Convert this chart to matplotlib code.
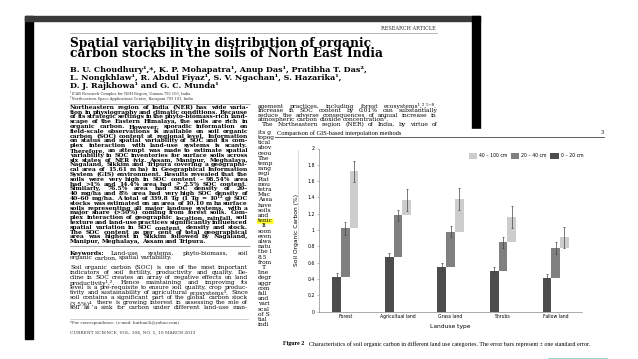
import matplotlib
matplotlib.use("Agg")
import numpy as np
import matplotlib.pyplot as plt
from matplotlib.patches import Rectangle

# chart data
categories = ['Forest', 'Agricultual land', 'Grass land', 'Shrubs', 'Fallow land']
soc_0_20 = [0.42, 0.67, 0.55, 0.50, 0.41]
soc_20_40 = [1.02, 1.18, 0.98, 0.85, 0.78]
soc_40_100 = [1.72, 1.37, 1.38, 1.16, 0.91]
err_0_20 = [0.05, 0.05, 0.05, 0.05, 0.05]
err_20_40 = [0.08, 0.07, 0.07, 0.07, 0.07]
err_40_100 = [0.13, 0.13, 0.13, 0.14, 0.13]
depth_labels = ['0 – 20 cm', '20 – 40 cm', '40 – 100 cm']
yticks = [0, 0.2, 0.4, 0.6, 0.8, 1, 1.2, 1.4, 1.6, 1.8, 2]

# article text
title_lines = ["Spatial variability in distribution of organic",
               "carbon stocks in the soils of North East India"]
author_lines = ["B. U. Choudhury¹,*, K. P. Mohapatra¹, Anup Das¹, Pratibha T. Das²,",
                "L. Nongkhlaw¹, R. Abdul Fiyaz¹, S. V. Ngachan¹, S. Hazarika¹,",
                "D. J. Rajkhowa¹ and G. C. Munda¹"]
affil_lines = ["¹ICAR Research Complex for NEH Region, Umiam 793 103, India",
               "²Northeastern Space Applications Centre, Barapani 793 103, India"]
abstract_lines = [
    "Northeastern region of India (NER) has wide varia-",
    "tion in physiography and climatic conditions. Because",
    "of its strategic settings in the phyto-biomass-rich land-",
    "scape of the Eastern Himalaya, the soils are rich in",
    "organic carbon. However, sporadic information on",
    "field-scale observations is available on soil organic",
    "carbon (SOC) content at regional level. Information",
    "on status and spatial variability of SOC and its com-",
    "plex interaction with land-use systems is scanty.",
    "Therefore, an attempt was made to estimate spatial",
    "variability in SOC inventories for surface soils across",
    "six states of NER (viz. Assam, Manipur, Meghalaya,",
    "Nagaland, Sikkim and Tripura covering a geographi-",
    "cal area of 15.61 m ha) in Geographical Information",
    "System (GIS) environment. Results revealed that the",
    "soils were very high in SOC content – 98.54% area",
    "had >1% and 14.4% area had > 2.5% SOC content.",
    "Similarly, 76.5% area had SOC density of 20–",
    "40 mg/ha and 8% area had very high SOC density of",
    "40–60 mg/ha. A total of 339.8 Tg (1 Tg = 10¹² g) SOC",
    "stocks was estimated on an area of 10.10 m ha surface",
    "soils representing all major landuse systems, with a",
    "major share (>50%) coming from forest soils. Com-",
    "plex interaction of geographic location, rainfall, soil",
    "texture and land-use practices significantly influenced",
    "spatial variation in SOC content, density and stock.",
    "The SOC content as per cent of total geographical",
    "area was highest in Sikkim followed by Nagaland,",
    "Manipur, Meghalaya, Assam and Tripura.",
]
keyword_lines = ["Land-use systems, phyto-biomass, soil",
                 "organic carbon, spatial variability."]
intro_lines = [
    "Soil organic carbon (SOC) is one of the most important",
    "indicators of soil fertility, productivity and quality. De-",
    "cline in SOC creates an array of negative effects on land",
    "productivity¹,². Hence maintaining and improving its",
    "level is a pre-requisite to ensure soil quality, crop produc-",
    "tivity and sustainability of agricultural ecosystems³. Since",
    "soil contains a significant part of the global carbon stock",
    "(3.5%)⁴, there is growing interest in assessing the role of",
    "soil as a sink for carbon under different land-use man-",
]
right_lines = [
    "agement practices, including forest ecosystems¹,²,⁵⁻⁸.",
    "Increase in SOC content by 0.01% can substantially",
    "reduce the adverse consequences of annual increase in",
    "atmospheric carbon dioxide concentration⁹.",
    "The Northeastern region (NER) of India, by virtue of",
]
# right column, only the start of each line shows beside the pasted chart
right_cut = ["its g", "topog", "tical", "abov", "ceou", "The", "temp", "rang", "regi",
             "Plat", "mou", "tetra", "Mac", "Assa", "have", "soils", "and", "tenic",
             "It", "soon", "even", "alwa", "natu", "the l", "8.5", "from", "T", "line",
             "degr", "aggr", "com", "fall", "and", "vari", "scal", "of S", "tial", "indi"]


def justify(ax, line, x0, x1, y, last=False, **kw):
    words = line.split()
    texts = [ax.text(x0, y, w, va='center', ha='left', **kw) for w in words]
    r = ax.figure.canvas.get_renderer()
    widths = [t.get_window_extent(r).width for t in texts]
    n = len(words)
    if n > 1 and not last:
        sp = (x1 - x0 - sum(widths)) / (n - 1)
        if sp < 0.9:
            scale = (x1 - x0 - 0.9 * (n - 1)) / sum(widths)
            for t in texts:
                t.set_fontsize(t.get_fontsize() * scale)
            widths = [t.get_window_extent(r).width for t in texts]
            sp = (x1 - x0 - sum(widths)) / (n - 1)
    else:
        sp = 1.4
    x = x0
    for t, w in zip(texts, widths):
        t.set_x(x)
        x += w + sp


fig = plt.figure(figsize=(6.38, 3.59), dpi=100)
fig.patch.set_facecolor('white')

bg = fig.add_axes([0, 0, 1, 1])
bg.set_xlim(0, 638)
bg.set_ylim(359, 0)
bg.axis('off')

# page frame
bg.add_patch(Rectangle((25, 16), 8, 323, color='black', zorder=2))
bg.add_patch(Rectangle((25, 16), 455, 4.5, color='#3a3a3a', zorder=2))
bg.add_patch(Rectangle((472, 16), 8, 113, color='black', zorder=2))

serif = 'DejaVu Serif'
body = 4.3
bg.text(436, 28.5, 'RESEARCH ARTICLE', family=serif, fontsize=3.6, color='#333333',
        ha='right', va='center')
bg.plot([70, 437], [33.3, 33.3], color='#999999', lw=0.5)
bg.text(70, 48.5, '\n'.join(title_lines), family=serif, weight='bold', fontsize=8.8,
        va='center', linespacing=0.78)
bg.text(70, 78, '\n'.join(author_lines), family=serif, weight='bold', fontsize=5.8,
        va='center', linespacing=0.95)
bg.text(70, 96.3, '\n'.join(affil_lines), family=serif, fontsize=2.6, va='center',
        color='#333333', linespacing=1.0)

bg.plot([70, 250], [104.3, 104.3], color='#666666', lw=0.4)
for i, s in enumerate(abstract_lines):
    justify(bg, s, 70, 248, 107.3 + i * 4.8, last=(i == len(abstract_lines) - 1),
            family=serif, weight='bold', fontsize=body)
bg.plot([70, 250], [245.9, 245.9], color='#666666', lw=0.4)
kw_t = bg.text(70, 253.3, 'Keywords:', family=serif, weight='bold', fontsize=body, va='center')
kw_w = kw_t.get_window_extent(fig.canvas.get_renderer()).width
justify(bg, keyword_lines[0], 70 + kw_w + 6, 248, 253.3, family=serif, fontsize=body)
justify(bg, keyword_lines[1], 70, 248, 258.0, last=True, family=serif, fontsize=body)
for i, s in enumerate(intro_lines):
    justify(bg, s, 70, 248, 267.7 + i * 5.0, family=serif, fontsize=body)
bg.plot([70, 248], [319.3, 319.3], color='#aaaaaa', lw=0.4)
bg.text(70, 323.3, '*For correspondence. (e-mail: burhan3i@yahoo.com)', family=serif,
        fontsize=2.9, va='center', color='#333333')
bg.text(70, 331.7, 'CURRENT SCIENCE, VOL. 104, NO. 5, 10 MARCH 2013', family=serif,
        fontsize=3.2, va='center', color='#333333')

for i, s in enumerate(right_lines):
    x0 = 262 if i == 4 else 258
    justify(bg, s, x0, 437, 106.3 + i * 4.55, last=(i == 3), family=serif, fontsize=body)
bg.add_patch(Rectangle((257, 218.5), 17, 4.5, color='#ffff3a', zorder=0.5))
for i, s in enumerate(right_cut):
    x0 = 262 if s in ('It', 'T') else 258
    bg.text(x0, 132.3 + 5.2 * i, s, family=serif, fontsize=body, va='center')

# pasted chart image
bg.add_patch(Rectangle((274, 129), 364, 230, color='white', zorder=5))
bg.text(277, 133, 'Comparison of GIS-based interpolation methods', family='Liberation Serif',
        fontsize=4.6, va='center', zorder=6)
bg.text(602, 133, '3', family='Liberation Serif', fontsize=4.6, va='center', ha='center',
        zorder=6)
bg.plot([275, 604], [137.3, 137.3], color='#444444', lw=0.6, zorder=6)
bg.plot([297.5, 297.5], [150, 240], color='#cccccc', lw=0.5, zorder=6)
bg.text(283, 344, 'Figure 2', family='Liberation Serif', weight='bold', fontsize=4.3,
        va='center', zorder=6)
bg.text(309, 344, 'Characteristics of soil organic carbon in different land use categories. '
        'The error bars represent ± one standard error.', family='Liberation Serif',
        fontsize=4.3, va='center', zorder=6)
bg.plot([549, 607], [358.5, 358.5], color='#7fd1bd', lw=1.2, zorder=6)

# bar chart
ax = fig.add_axes([319 / 638, 1 - 311.7 / 359, 263 / 638, 163.2 / 359])
ax.set_facecolor('white')
x = np.arange(len(categories))
w = 0.165
lo = np.zeros(len(categories))
series = [(soc_0_20, err_0_20, '#4d4d4d'),
          (soc_20_40, err_20_40, '#808080'),
          (soc_40_100, err_40_100, '#cdcdcd')]
handles = []
for k, (vals, errs, col) in enumerate(series):
    vals = np.array(vals)
    b = ax.bar(x + (k - 1) * w, vals - lo, w, bottom=lo, color=col, label=depth_labels[k])
    ax.errorbar(x + (k - 1) * w, vals, yerr=errs, fmt='none', ecolor='#444444',
                elinewidth=0.5, capsize=0.9, capthick=0.5)
    handles.append(b)
    lo = vals

ax.set_xlim(-0.5, 4.5)
ax.set_ylim(0, 2)
ax.set_yticks(yticks)
ax.set_yticklabels([str(v) for v in yticks])
ax.set_xticks(x)
ax.set_xticklabels(categories)
ax.tick_params(labelsize=3.3, length=1.5, width=0.4, color='#888888', pad=1.5)
ax.tick_params(axis='x', length=0)
for s in ['top', 'right']:
    ax.spines[s].set_visible(False)
for s in ['left', 'bottom']:
    ax.spines[s].set_color('#888888')
    ax.spines[s].set_linewidth(0.5)
ax.set_ylabel('Soil Organic Carbon (%)', fontsize=4.3, labelpad=6)
ax.set_xlabel('Landuse type', fontsize=4.3, labelpad=4)
ax.legend(handles[::-1], depth_labels[::-1], ncol=3, fontsize=3.3, frameon=False,
          loc='upper left', bbox_to_anchor=(0.555, 1.0), handlelength=1.8,
          handleheight=1.6, handletextpad=0.4, columnspacing=0.8)

fig.savefig('out.png', dpi=100)
